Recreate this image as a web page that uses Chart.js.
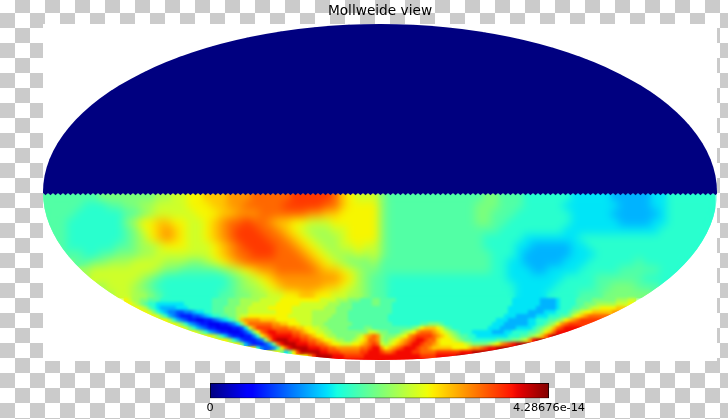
<!DOCTYPE html>
<html>
<head>
<meta charset="utf-8">
<style>
html, body { margin: 0; padding: 0; }
body {
    width: 728px; height: 419px; overflow: hidden; position: relative;
    background: repeating-conic-gradient(#cbcbcb 0 25%, #fff 0 50%) 0 -2px / 30px 30px;
}
#sheet { position: absolute; left: 43px; top: 24px; width: 674px; height: 337px; background: #fff; }
.layer { position: absolute; left: 0; top: 0; width: 728px; height: 419px; }
</style>
<script src="https://cdn.jsdelivr.net/npm/chart.js@4"></script>
</head>
<body>
<div id="sheet"></div>
<div class="layer"><canvas id="mapChart" width="728" height="419"></canvas></div>
<div class="layer"><canvas id="barChart" width="728" height="419"></canvas></div>
<script>
const titleText = 'Mollweide view'
const barMin = 0
const barMax = 4.28676e-14
const barLabels = ['0', '4.28676e-14']

// one letter per cell, a = 0 ... u = 1 (steps of 0.05 of the bar), spaces only for reading
const northRows = [
    'aaaaaaaaaaaaaaaaaaaa',
    'aaaaaaaaaaaaaaaaaaaa',
    'aaaaaaaaaaaaaaaaaaaa',
    'aaaaaaaaaaaaaaaaaaaa',
    'aaaaaaaaaaaaaaaaaaaa'
]
const equatorRow = 'aaaaaaaaaa aaaaaaaaaa aaaaaaaaaa aaaaaaaaaa aaaaaaaaaa aaaaaaaaaa aaaaaaaaaa aaaaaaaaaa aaaaaaaaaa aaaaaaaaaa aaaaaaaaaa aaaaaaaaaa aaaaaaaaaa aaaaa'
const southRows = [
    'jjjjjjjkkk kkkkllmmnn ooopppqqqq qrrrrrqonm mmkjjjjjjj jjjjjkkjjj iiiiiihhhh hggggghhii iiii',
    'jjjjjiiijj kkllmmmmnn nooppqqqqq rrrrrqqonn nnkjjjjjjj jjjjkkkjjj iiiiihhhhh hhgggghhii iiii',
    'jjjjiiiiii jjklmmmmmn nnoopppqqq qqqppoonnn nnkjjjjjjj jjjjkkjjji iiiiiihhhh hgggggghii iiii',
    'jjjiiiiiii klnnoonnmm nopqqrqqpo onnmmmnnnn nnkjjjjjjj jjjjkkjjii iiiiiihhhh hhgggghhii iiii',
    'jjjiiiiiii jkmnoponmm nopqrrrqqp onmlllmmnn nnkjjjjjjj jjjjjjjiii iiiiihhhhh hhhhhhhiii iiii',
    'kjjiiiiiii jklnoponmm nopqrrrrqq ponmlllmnn nnkjjjjjjj jjjjjiiiii hhhhhhhiii iiiiiiiiii iiii',
    'kkjiiiiiij jkllmnnnmm mnopqrrrrq qponmllmmn mmkjjjjjjj jjjjjiiiih hggggghhii iiiiiiiiii iiii',
    'kkjjjiijjk kkllmmmmmm mnopqqrrrq qqponmlllm lmkjjjjjjj jjjjjjiiih gggggghhhi iiiiiiiiii iiii',
    'kkkkjjkkll lmmmmlllkk lmnopqqqqq qqqponmlkk kljjjjjjjj jjjjjjiihh ggggghhhii iiiijiiiii iiii',
    'kkkkllmmmm mmmmlkkjjj jjklmnoppq qqqqpoonml kkjjjjjjjj jjjjjjiihh hgghhhhiii iijjjjjiii iiii',
    'llllllmmmm mmlkjiiiii iiijklmnop ppppppponl kjjiiiiiii iiiiiiiihh hhhhhiiiij jjjjjiiiii iiii',
    'llllllllmm mlkjiiiiii iiijkllmno pppppoonml kjjiiiiiii iiiiiiiiih hhhhiiiiij jkkkjjjiii iiii',
    'lllllllllm mllkjiiiii iijjkkllmm nnoonnmmll kjjiiiiiii iiiiiiiiih hhhiiiijjj kkkkkkjjjj jjjj'
]
// finer cells for the streaks along the bottom edge, from y = 298 down, x = 124 to 636
const edgeRows = [
    'nmllkkjjji iiiiiiiiii iijjjjkkkl llllmmmmmn nnnnnnnnnm mmmlllkkkj jjkkjjjjii iiiiiiiiii iiiiiiiiii iiiiiiihhh hhhhgggghi iiijjjjkkk kkklllmm',
    'nnmlkjiihh hhhhhiiiii iijjjjkkkl llmmmmmmnn nnnnmmmmmm mlllkkkjjj jjkkjjjiii iiiiiiiiii iiiiiiiiii iiiiiiihhh hhhhgggghi iiijjkkkll lllmmmnn',
    'nnnnmljihg ggghhhiiii iijjjkkkll lmmmmmnnnn nnmmmmmmmm lllkkkkjjj jjjjjjjiii iiiiiiiiii iiiiiiiiii iiiiiihhhh hhhggggghi iijjkklmmn nnnooonn',
    'nnnnnnmkih gffeeffghh iijjjkkkll lmmmmmmmnn nnmmmmmlll lllkkkjjjj jjjjjjjiii iiiiiiiiii iiiiiiiiii iiiiiihhhh hgggghhhii ijklmnnooo oopppooo',
    'nnnnnnnnmk igfedddeef ghiijjkklm mnnnnnnnnn nmmmmmmlll llkkkkjjjj jjjjjjiiii iiiiiiiiii iiiiiiiiii iiiiihhhgg ggghhhiiij jkmnopqqqq qqqqqqqq',
    'nnnnnnnnnn nligfeddcc ddefghijlo ppppoooonn nnnmmmmlll lkkkkkjjjj jjjjjjiiii iiiiiiiiii iiiiiiiiii iiihhhgggg ghhiiijjkl nopqrrrrrr rrrrrrrr',
    'nnnnnnnnnn nnnmkigfed dcccddefhk oqqqqqqppo onnnmmmlll kkkkkkkjjj jjjjjjjiii iiiijjkkkj iiiiiiiiii iihhhggggg ghhiijklnp qrrrrrrrrr rrrrrrrr',
    'nnnnnnnnnn nnnnnmkigf eddccccdde hmprrrrqqq qppoonnmml lkkkkkjjjj kkjjjjjjjj jjklnooonm kjiiiiiiii ihhhgggghh hhijklmoqr ssssssssss ssssssss',
    'nnnnnnnnnn nnnnnnnnmk igfeddcccd egknqrssrr rrqqponnmm llkkkkkkkk kmmlkkjjjk lmnpqqqpon mlkjiiihhh hhggghhiii ijjklnoqss ssssssssss ssssssss',
    'nnnnnnnnnn nnnnnnnnnn nnmkigeddc ddfinprsss ssrrqqponn mllkkkkklm opqplkkklm npqrrrrqpo nmlkjjiihh hhhhhhiiij jklmoqsttt tttttttttt tttttttt',
    'nnnnnnnnnn nnnnnnnnnn nnnnnnlige dddefkpstt tsssrrqqpo nnmllkklmn oqqplklmno pqrssrqqon nnmlkjjiii iiijjjjkkl mpsttttttt tttttttttt tttttttt',
    'nnnnnnnnnn nnnnnnnnnn nnnnnnnnnk gedddegkqs tttsssrrqq ponnmmmnno pqrqmlmnop qrssrqqpon nnnnnmlkkk klmnpqrstt tttttttttt tttttttttt tttttttt',
    'nnnnnnnnnn nnnnnnnnnn nnnnnnnnnn nnnifeefin qsttttsssr rqqppppppq qrsspnopqr sssrqqpooo oonnnnoppq rssttttttt tttttttttt tttttttttt tttttttt',
    'nnnnnnnnnn nnnnnnnnnn nnnnnnnnnn nnnnnnnnnk hjnrttttts srrrqqqqqr rsssrqqrss ssrrqqqqrr rrrrsssttt tttttttttt tttttttttt tttttttttt tttttttt',
    'nnnnnnnnnn nnnnnnnnnn nnnnnnnnnn nnnnnnnnnn nnnnnnprtt ttsssrrrrr ssssssssss ssssrrrrss sssttttttt tttttttttt tttttttttt tttttttttt tttttttt',
    'ssssssssss ssssssssss ssssssssss ssssssssss ssssssssss ssssssssss ssssssssss ssssssssss ssssssssss ssssssssss ssssssssss ssssssssss ssssssss'
]

function jet(v) {
    const ramp = (stops) => {
        for (let i = 1; i < stops.length; i++) {
            if (v <= stops[i][0]) {
                const t = (v - stops[i - 1][0]) / (stops[i][0] - stops[i - 1][0])
                return stops[i - 1][1] + t * (stops[i][1] - stops[i - 1][1])
            }
        }
        return stops[stops.length - 1][1]
    }
    const r = ramp([[0, 0], [0.35, 0], [0.66, 1], [0.89, 1], [1, 0.5]])
    const g = ramp([[0, 0], [0.125, 0], [0.375, 1], [0.64, 1], [0.91, 0], [1, 0]])
    const b = ramp([[0, 0.5], [0.11, 1], [0.34, 1], [0.65, 0], [1, 0]])
    return `rgb(${Math.round(r * 255)},${Math.round(g * 255)},${Math.round(b * 255)})`
}

// scale units are 8px steps, the map box is 84.25 x 42 of them
function cellsFrom(rows, size, startX, startY) {
    const cells = []
    rows.forEach((row, r) => {
        row.replace(/ /g, '').split('').forEach((letter, c) => {
            cells.push({ x: startX + (c + 0.5) * size / 8, y: startY + (r + 0.5) * size / 8, v: (letter.charCodeAt(0) - 97) / 20 })
        })
    })
    return cells
}

const southCells = cellsFrom(southRows, 8, 0, 21.25)
const edgeCells = cellsFrom(edgeRows, 4, 10.125, 34.25)
const northCells = cellsFrom(northRows, 34, 0, -0.125)
const equatorCells = cellsFrom([equatorRow], 5, 0, 20.75)

const softness = { 3: 'blur(4px)', 2: 'blur(1.4px)' }

const ellipseClip = {
    id: 'ellipseClip',
    beforeDatasetsDraw(chart) {
        const { ctx, chartArea: a } = chart
        ctx.save()
        ctx.beginPath()
        ctx.ellipse((a.left + a.right) / 2, (a.top + a.bottom) / 2, (a.right - a.left) / 2, (a.bottom - a.top) / 2, 0, 0, Math.PI * 2)
        ctx.clip()
    },
    afterDatasetDraw(chart, args) {
        // soften the south cells once they are all down
        if (!softness[args.index]) return
        chart.ctx.filter = softness[args.index]
        chart.ctx.drawImage(chart.canvas, 0, 0)
        chart.ctx.filter = 'none'
    },
    afterDatasetsDraw(chart) {
        chart.ctx.restore()
    }
}

new Chart(document.getElementById('mapChart'), {
    type: 'scatter',
    data: {
        datasets: [
            { data: equatorCells, pointStyle: 'rectRot', pointRadius: 2.9, borderWidth: 0, backgroundColor: equatorCells.map(c => jet(c.v)) },
            { data: northCells, pointStyle: 'rect', pointRadius: 24.5, borderWidth: 0, backgroundColor: northCells.map(c => jet(c.v)) },
            { data: edgeCells, pointStyle: 'rect', pointRadius: 2.95, borderWidth: 0, backgroundColor: edgeCells.map(c => jet(c.v)) },
            { data: southCells, pointStyle: 'rect', pointRadius: 5.8, borderWidth: 0, backgroundColor: southCells.map(c => jet(c.v)) }
        ]
    },
    options: {
        responsive: false,
        animation: false,
        layout: { autoPadding: false, padding: { left: 43, right: 11, top: 0, bottom: 59 } },
        scales: {
            x: { display: false, min: 0, max: 84.25 },
            y: { display: false, min: 0, max: 42, reverse: true }
        },
        plugins: {
            legend: { display: false },
            tooltip: { enabled: false },
            title: {
                display: true,
                text: titleText,
                color: '#000',
                font: { family: 'DejaVu Sans', size: 13.7, weight: 'normal' },
                padding: { top: 3, bottom: 4.5 }
            }
        }
    },
    plugins: [ellipseClip]
})

new Chart(document.getElementById('barChart'), {
    type: 'bar',
    data: {
        labels: [''],
        datasets: [{
            data: [[barMin, barMax]],
            barPercentage: 1,
            categoryPercentage: 1,
            borderWidth: 1,
            borderSkipped: false,
            borderColor: '#000',
            backgroundColor(context) {
                const a = context.chart.chartArea
                if (!a) return '#000'
                const grad = context.chart.ctx.createLinearGradient(a.left, 0, a.right, 0)
                for (let i = 0; i <= 64; i++) grad.addColorStop(i / 64, jet(i / 64))
                return grad
            }
        }]
    },
    options: {
        indexAxis: 'y',
        responsive: false,
        animation: false,
        layout: { autoPadding: false, padding: { left: 210, right: 179, top: 383, bottom: 5.4 } },
        scales: {
            x: {
                min: barMin,
                max: barMax,
                border: { display: false },
                grid: { display: false, drawTicks: false, tickLength: 0 },
                afterBuildTicks(axis) { axis.ticks = [{ value: barMin }, { value: barMax }] },
                ticks: {
                    autoSkip: false,
                    maxRotation: 0,
                    padding: 3,
                    color: '#000',
                    font: { family: 'DejaVu Sans', size: 11.3 },
                    callback: (value, i) => barLabels[i]
                }
            },
            y: { display: false }
        },
        plugins: { legend: { display: false }, tooltip: { enabled: false } }
    }
})
</script>
</body>
</html>
